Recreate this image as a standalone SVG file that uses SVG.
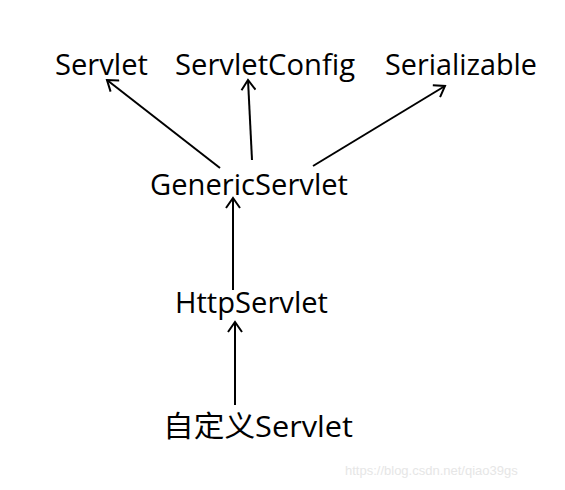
<svg xmlns="http://www.w3.org/2000/svg" width="565" height="490" viewBox="0 0 565 490">
<style>
.t{font-family:"Open Sans","Noto Sans CJK SC",sans-serif;font-size:29px;fill:#000}
.c{stroke:#000;stroke-width:2;fill:none}
.w{font-family:"Liberation Sans",sans-serif;font-size:13px;fill:#e6e6e6}
</style>
<defs>
<marker id="a" markerWidth="16" markerHeight="16" refX="12" refY="8" orient="auto" markerUnits="userSpaceOnUse">
<path d="M2,1 L12,8 L2,15" stroke="#000" stroke-width="2" fill="none"/>
</marker>
</defs>
<rect width="565" height="490" fill="#fff"/>
<g id="servlet"><text class="t" x="55" y="75" textLength="93" lengthAdjust="spacingAndGlyphs">Servlet</text></g>
<g id="servletconfig"><text class="t" x="175" y="75" textLength="180" lengthAdjust="spacingAndGlyphs">ServletConfig</text></g>
<g id="serializable"><text class="t" x="385" y="75" textLength="152" lengthAdjust="spacingAndGlyphs">Serializable</text></g>
<g id="genericservlet"><text class="t" x="150" y="195" textLength="198" lengthAdjust="spacingAndGlyphs">GenericServlet</text></g>
<g id="httpservlet"><text class="t" x="175" y="313" textLength="153" lengthAdjust="spacingAndGlyphs">HttpServlet</text></g>
<g id="custom"><text class="t" x="163" y="437" textLength="190" lengthAdjust="spacingAndGlyphs">自定义Servlet</text></g>
<g id="connectors">
<line class="c" x1="220" y1="168" x2="107" y2="80" marker-end="url(#a)"/>
<line class="c" x1="252" y1="160" x2="248" y2="80" marker-end="url(#a)"/>
<line class="c" x1="313" y1="166" x2="445" y2="86" marker-end="url(#a)"/>
<line class="c" x1="233" y1="290" x2="233" y2="198" marker-end="url(#a)"/>
<line class="c" x1="235" y1="405" x2="235" y2="322" marker-end="url(#a)"/>
</g>
<text class="w" x="345" y="475">https://blog.csdn.net/qiao39gs</text>
</svg>
